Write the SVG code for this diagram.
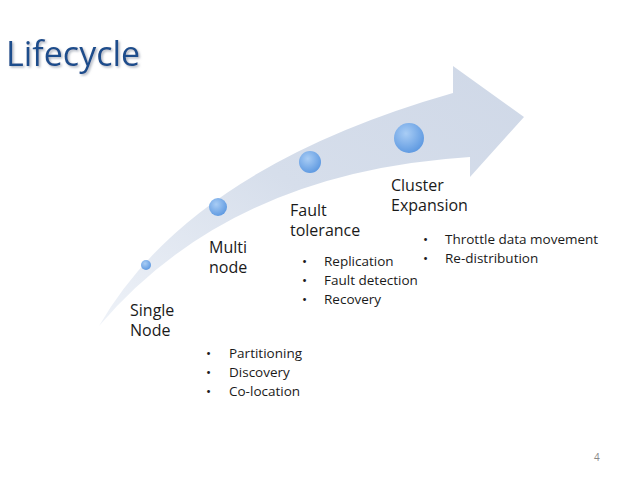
<svg xmlns="http://www.w3.org/2000/svg" width="638" height="478" viewBox="0 0 638 478">
<defs>
<linearGradient id="ag" x1="0" y1="1" x2="1" y2="0"><stop offset="0" stop-color="#eef2f8"/><stop offset="0.5" stop-color="#d6deeb"/><stop offset="1" stop-color="#cfd8e7"/></linearGradient>
<radialGradient id="cg" cx="0.4" cy="0.35" r="0.7"><stop offset="0" stop-color="#a9cdf5"/><stop offset="1" stop-color="#5b97e0"/></radialGradient>
<filter id="sh" x="-10%" y="-20%" width="130%" height="150%"><feDropShadow dx="1.5" dy="1.5" stdDeviation="0.8" flood-color="#9aa3b0" flood-opacity="0.8"/></filter>
<style>
.t{font-family:"Open Sans","Liberation Sans",sans-serif;fill:#1a1a1a}
.l{font-size:16px}.b{font-size:13.5px}
</style>
</defs>
<rect width="638" height="478" fill="#fff"/>
<text x="6" y="66" font-family="Open Sans,Liberation Sans,sans-serif" font-size="34" fill="#1f4e8c" filter="url(#sh)">Lifecycle</text>
<g id="arrow"><path d="M99,326 Q190,168 453,93 L453,66 L524,117 L470,177 L470,157 Q230,172 99,326 Z" fill="url(#ag)"/></g>
<g id="n1"><circle cx="146" cy="265" r="5" fill="url(#cg)"/><text class="t l" x="130" y="316">Single</text><text class="t l" x="130" y="336">Node</text></g>
<g id="n2"><circle cx="218" cy="207" r="9" fill="url(#cg)"/><text class="t l" x="209" y="253">Multi</text><text class="t l" x="209" y="273">node</text>
<text class="t b" x="206" y="358">•</text><text class="t b" x="229" y="358">Partitioning</text>
<text class="t b" x="206" y="377">•</text><text class="t b" x="229" y="377">Discovery</text>
<text class="t b" x="206" y="396">•</text><text class="t b" x="229" y="396">Co-location</text></g>
<g id="n3"><circle cx="310" cy="162" r="11" fill="url(#cg)"/><text class="t l" x="290" y="216">Fault</text><text class="t l" x="290" y="236">tolerance</text>
<text class="t b" x="302" y="266">•</text><text class="t b" x="324" y="266">Replication</text>
<text class="t b" x="302" y="285">•</text><text class="t b" x="324" y="285">Fault detection</text>
<text class="t b" x="302" y="304">•</text><text class="t b" x="324" y="304">Recovery</text></g>
<g id="n4"><circle cx="409" cy="138" r="15" fill="url(#cg)"/><text class="t l" x="391" y="191">Cluster</text><text class="t l" x="391" y="211">Expansion</text>
<text class="t b" x="423" y="244">•</text><text class="t b" x="445" y="244">Throttle data movement</text>
<text class="t b" x="423" y="263">•</text><text class="t b" x="445" y="263">Re-distribution</text></g>
<text x="594" y="461" font-family="Open Sans,Liberation Sans,sans-serif" font-size="10" fill="#888">4</text>
</svg>
